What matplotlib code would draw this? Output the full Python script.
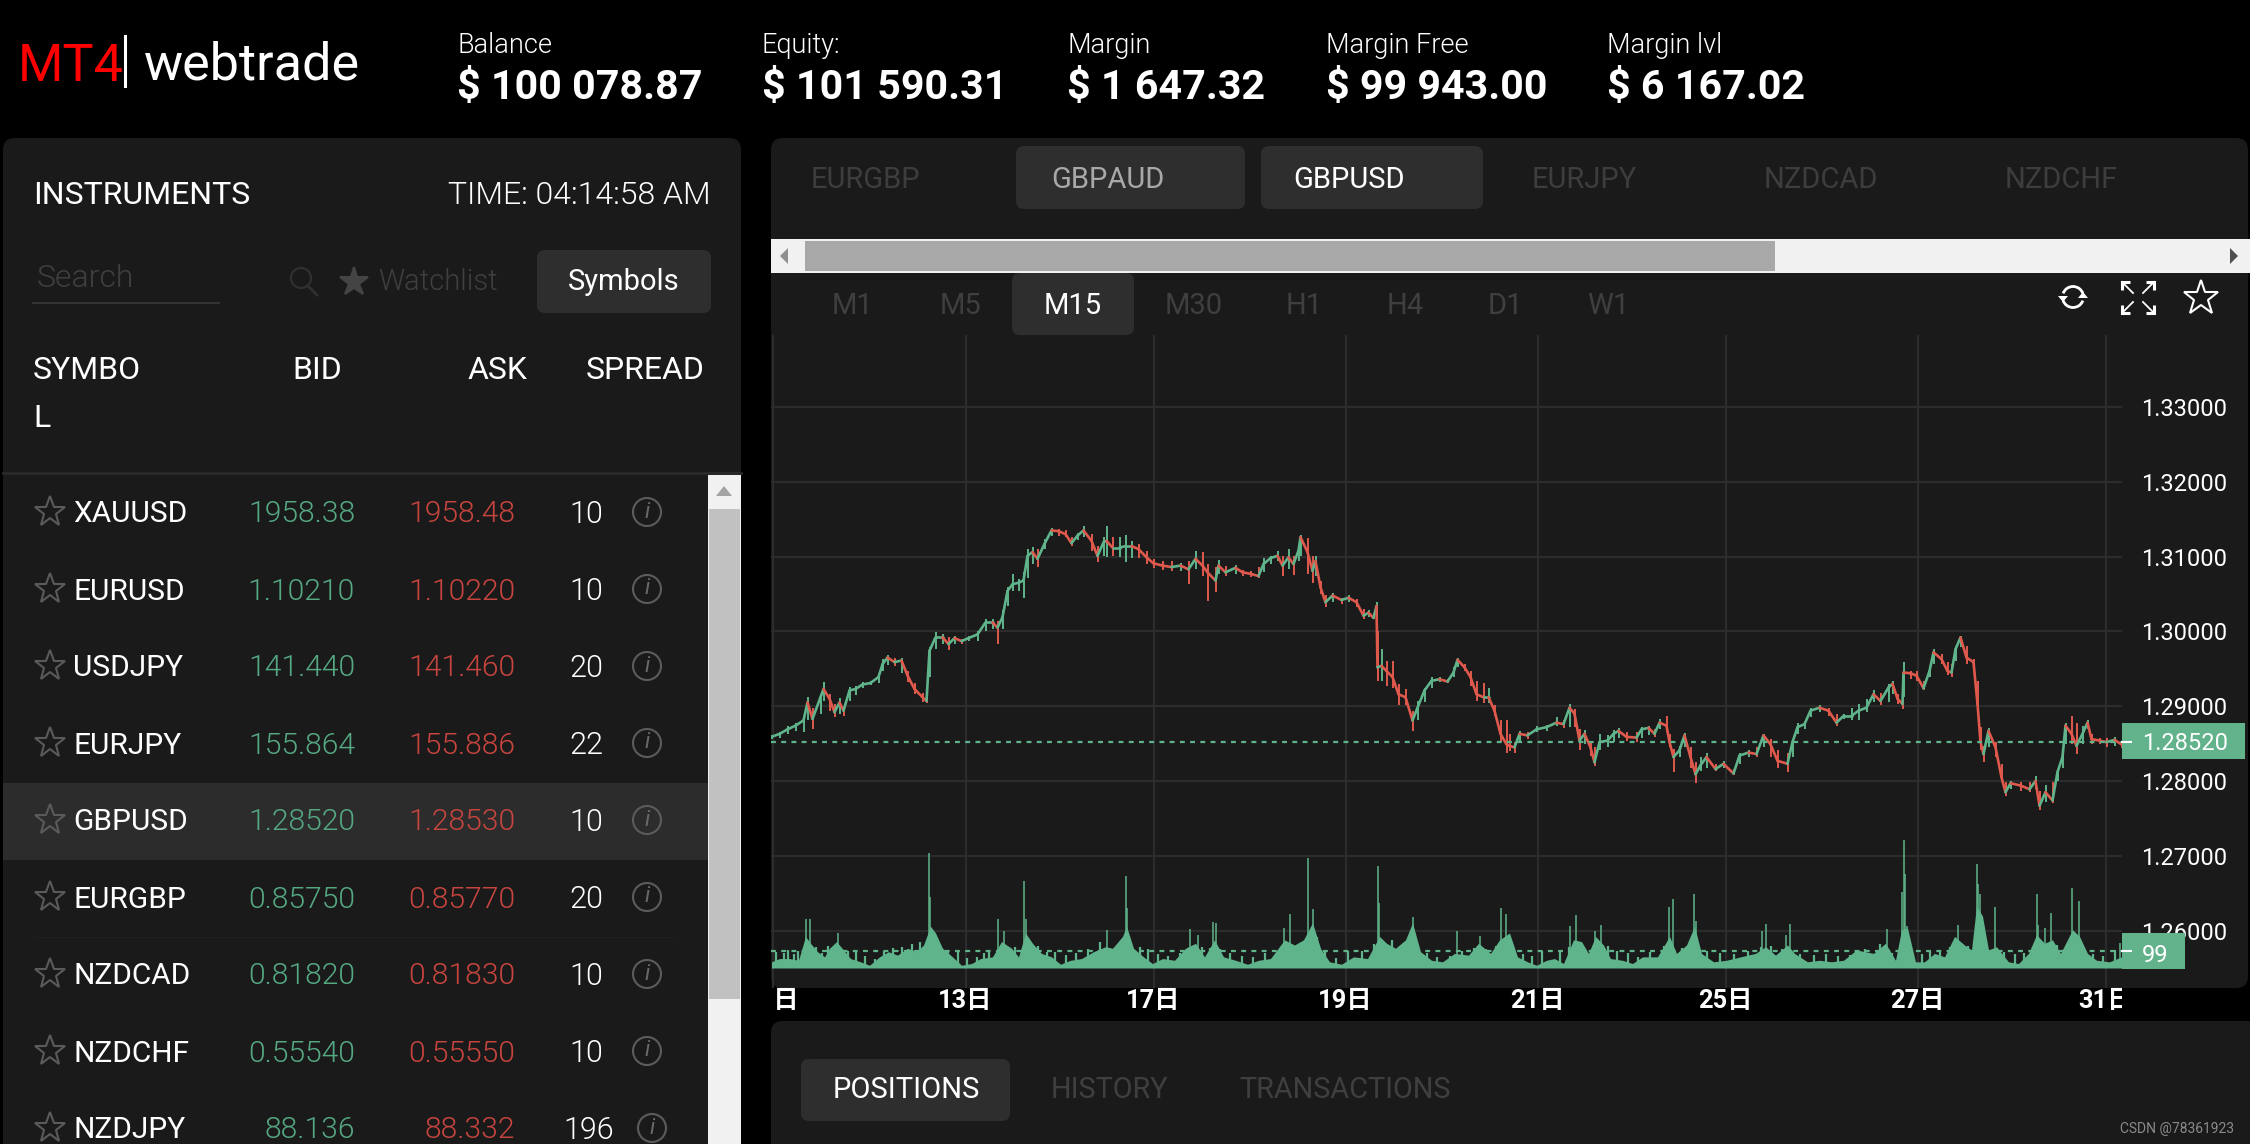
import matplotlib
matplotlib.use("Agg")
import matplotlib.pyplot as plt
from matplotlib.patches import FancyBboxPatch, Rectangle, Circle, Polygon, Arc
from matplotlib.transforms import Bbox

plt.rcParams['font.family'] = ['Roboto', 'Noto Sans CJK SC', 'DejaVu Sans']

# chart data, bar number = 15 min candle position on screen
bars = [0, 8, 16, 24, 32, 36, 41, 49, 52, 58, 63, 68, 72, 78, 84, 91, 99, 107, 111, 116, 123, 130, 136, 143, 151, 155,
        158, 164, 171, 177, 183, 190, 197, 206, 214, 221, 226, 231, 236, 241, 247, 252, 256, 261, 266, 273, 280, 287,
        294, 300, 306, 312, 320, 326, 332, 335, 341, 348, 354, 360, 367, 375, 382, 391, 400, 409, 417, 424, 431, 436,
        444, 447, 454, 464, 471, 479, 487, 492, 499, 506, 511, 517, 522, 527, 529, 536, 541, 544, 549, 554, 561, 570,
        577, 585, 592, 597, 602, 605, 606, 610, 615, 621, 627, 634, 641, 646, 653, 660, 668, 676, 682, 686, 693, 699,
        705, 712, 717, 723, 729, 735,
        738, 743, 748, 756, 765, 775, 785, 792, 798, 803, 808, 813, 819, 823, 828, 836, 842, 847, 855, 865, 870, 877,
        883, 888, 895, 898, 902, 908, 913, 919, 924, 929, 935, 944, 952, 962, 968, 977, 985, 992, 999, 1006, 1016, 1021,
        1026, 1033, 1039, 1048, 1057, 1065, 1072, 1080, 1087, 1095, 1102, 1109, 1117, 1121, 1126, 1131, 1132, 1139,
        1145, 1152, 1158, 1162, 1170, 1176, 1180, 1184, 1189, 1195, 1202, 1206, 1209, 1212, 1217, 1224, 1230, 1234,
        1239, 1249, 1258, 1264, 1268, 1274, 1281, 1286, 1291, 1294, 1300, 1305, 1311, 1316, 1320, 1328, 1335, 1343, 1350]
closes = [12859, 12863, 12869, 12874, 12881, 12905, 12883, 12912, 12923, 12910, 12892, 12905, 12894, 12921, 12923, 12929,
          12931, 12939, 12956, 12965, 12959, 12961, 12941, 12923, 12912, 12907, 12974, 12992, 12992, 12983, 12991, 12987,
          12991, 12996, 13012, 13012, 13005, 13019, 13054, 13063, 13065, 13068, 13101, 13106, 13097, 13117, 13135, 13134,
          13130, 13118, 13128, 13135, 13121, 13101, 13119, 13121, 13112, 13112, 13114, 13114, 13110, 13099, 13091, 13088,
          13086, 13088, 13083, 13097, 13088, 13079, 13068, 13088, 13079, 13085, 13079, 13077, 13074, 13090, 13098, 13101,
          13088, 13099, 13090, 13108, 13126, 13106, 13081, 13094, 13059, 13039, 13048, 13042, 13045, 13039, 13021, 13025,
          13018, 13034, 12952, 12954, 12947, 12939, 12916, 12912, 12881, 12898, 12921, 12934, 12936, 12933, 12945, 12962,
          12952, 12939, 12916, 12912, 12912, 12894, 12863, 12849,
          12847, 12845, 12863, 12861, 12869, 12872, 12878, 12876, 12898, 12890, 12854, 12863, 12845, 12825, 12852, 12854,
          12863, 12867, 12859, 12858, 12869, 12871, 12863, 12878, 12874, 12852, 12832, 12841, 12861, 12832, 12809, 12821,
          12832, 12816, 12823, 12810, 12834, 12838, 12836, 12861, 12849, 12827, 12823, 12852, 12872, 12876, 12894, 12898,
          12894, 12878, 12887, 12887, 12894, 12898, 12916, 12907, 12925, 12930, 12910, 12903, 12945, 12944, 12941, 12924,
          12947, 12972, 12963, 12947, 12945, 12976, 12992, 12965, 12959, 12903, 12852, 12836, 12867, 12845, 12805, 12785,
          12797, 12794, 12789, 12800, 12767, 12785, 12774, 12812, 12832, 12874, 12863, 12847, 12863, 12878, 12856, 12854,
          12852, 12855, 12849]
highs = [12862, 12866, 12873, 12878, 12886, 12912, 12898, 12916, 12933, 12916, 12903, 12911, 12899, 12926, 12927, 12932,
         12934, 12945, 12963, 12968, 12964, 12965, 12947, 12931, 12918, 12916, 12979, 12999, 12997, 12992, 12994, 12990,
         12994, 13000, 13016, 13016, 13014, 13028, 13060, 13077, 13070, 13079, 13110, 13113, 13110, 13123, 13138, 13137,
         13135, 13126, 13132, 13141, 13130, 13114, 13126, 13141, 13126, 13126, 13129, 13121, 13117, 13108, 13097, 13094,
         13094, 13092, 13094, 13107, 13106, 13090, 13086, 13095, 13088, 13089, 13082, 13081, 13086, 13098, 13101, 13107,
         13101, 13110, 13101, 13117, 13129, 13125, 13101, 13101, 13068, 13048, 13052, 13045, 13048, 13043, 13030, 13029,
         13025, 13039, 13001, 12976, 12961, 12961, 12930, 12923, 12894, 12907, 12925, 12939, 12939, 12936, 12952, 12964,
         12957, 12947, 12934, 12931, 12925, 12901, 12881, 12881,
         12863, 12852, 12867, 12865, 12873, 12875, 12885, 12881, 12903, 12896, 12869, 12868, 12854, 12845, 12863, 12862,
         12868, 12871, 12865, 12865, 12872, 12874, 12869, 12883, 12887, 12863, 12843, 12847, 12864, 12845, 12825, 12832,
         12838, 12823, 12827, 12816, 12838, 12841, 12845, 12863, 12856, 12841, 12838, 12856, 12877, 12878, 12898, 12902,
         12898, 12890, 12890, 12898, 12903, 12910, 12922, 12918, 12930, 12934, 12916, 12910, 12959, 12947, 12947, 12934,
         12952, 12976, 12970, 12959, 12956, 12981, 12994, 12981, 12963, 12934, 12872, 12847, 12871, 12852, 12823, 12798,
         12800, 12798, 12798, 12807, 12787, 12794, 12798, 12816, 12841, 12878, 12887, 12878, 12874, 12882, 12863, 12858,
         12858, 12859, 12854]
lows = [12856, 12857, 12863, 12867, 12866, 12881, 12869, 12890, 12907, 12894, 12885, 12890, 12887, 12907, 12915, 12925,
        12929, 12931, 12947, 12955, 12954, 12945, 12932, 12916, 12905, 12904, 12939, 12976, 12983, 12975, 12983, 12983,
        12987, 12987, 13001, 13003, 12983, 13003, 13034, 13054, 13054, 13045, 13072, 13090, 13086, 13110, 13128, 13128,
        13126, 13114, 13122, 13126, 13108, 13093, 13101, 13099, 13101, 13099, 13093, 13098, 13098, 13090, 13085, 13082,
        13081, 13081, 13064, 13083, 13074, 13041, 13053, 13077, 13074, 13077, 13074, 13073, 13071, 13079, 13090, 13094,
        13074, 13083, 13076, 13094, 13101, 13077, 13065, 13074, 13050, 13032, 13039, 13037, 13039, 13032, 13016, 13019,
        13017, 13019, 12934, 12934, 12927, 12925, 12901, 12901, 12867, 12881, 12905, 12925, 12932, 12931, 12939, 12952,
        12947, 12927, 12907, 12904, 12904, 12887, 12852, 12838,
        12840, 12838, 12854, 12856, 12865, 12867, 12873, 12871, 12872, 12872, 12841, 12849, 12834, 12820, 12841, 12845,
        12852, 12858, 12854, 12852, 12858, 12861, 12859, 12869, 12865, 12845, 12812, 12832, 12845, 12818, 12797, 12814,
        12818, 12814, 12818, 12808, 12823, 12832, 12832, 12845, 12832, 12818, 12812, 12832, 12863, 12869, 12885, 12892,
        12887, 12874, 12883, 12881, 12881, 12892, 12905, 12902, 12905, 12916, 12903, 12896, 12912, 12936, 12934, 12922,
        12939, 12956, 12957, 12942, 12939, 12961, 12979, 12956, 12947, 12894, 12841, 12825, 12845, 12832, 12800, 12780,
        12789, 12787, 12785, 12789, 12761, 12772, 12770, 12800, 12818, 12849, 12849, 12836, 12849, 12869, 12849, 12849,
        12845, 12847, 12844]
last_price = 1.28520
last_volume = 99

vol_bars = [0, 8, 18, 27, 34, 39, 46, 53, 58, 65, 72, 79, 89, 98, 108, 117, 126, 136, 145, 152, 159, 164, 171, 181, 190,
            200, 209, 221, 230, 240, 247, 254, 261, 270, 280, 289, 299, 310, 322, 334, 341, 351, 355, 362, 372, 381, 391,
            403, 414, 424, 433, 443, 452, 464, 476, 487, 499, 513, 523, 532, 541, 549, 558, 570, 582, 596, 608, 615, 624,
            634, 641, 649, 660, 671, 683, 697, 707, 719, 728, 738, 746, 756, 765, 775, 783, 792, 802, 810, 817, 824, 832,
            839, 851, 861, 871, 886, 898, 905, 915, 923, 930, 942, 955, 969, 984, 994, 1004, 1016, 1023, 1036, 1048,
            1060, 1072, 1085, 1102, 1114, 1124, 1130, 1136, 1144, 1153, 1163, 1173, 1183, 1193, 1200, 1205, 1211, 1217,
            1225, 1237, 1247, 1257, 1265, 1273, 1281, 1289, 1301, 1308, 1316, 1325, 1338, 1350]
vol_base = [36, 55, 55, 45, 184, 144, 95, 65, 115, 154, 105, 55, 36, 16, 65, 95, 75, 115, 95, 134, 243, 204, 115, 65, 16,
            26, 55, 65, 154, 115, 65, 204, 144, 85, 65, 22, 45, 55, 95, 124, 115, 184, 243, 115, 65, 26, 55,
            45, 115, 144, 65, 164, 65, 45, 22, 45, 55, 164, 134, 164, 263, 115, 36, 22, 65, 55, 184, 144, 115,
            164, 263, 95, 45, 36, 85, 75, 144, 85, 164, 204, 65, 36, 16, 45, 55, 26, 164, 154, 85, 184, 134,
            55, 45, 26, 65, 65, 184, 85, 134, 243, 85, 36, 45, 65, 85, 124, 75, 134, 85, 36, 45,
            36, 45, 105, 85, 144, 45, 223, 233, 36, 36, 85, 65, 184, 134, 105, 362, 302, 105,
            124, 36, 26, 85, 194, 144, 164, 85, 223, 184, 85, 45, 36, 65]
spike_bars = [34, 38, 66, 157, 158, 226, 232, 252, 254, 335, 354, 355, 418, 426, 441, 444, 512, 518, 536, 541, 606, 607,
              641, 685, 708, 729, 734, 798, 804, 823, 829, 897, 901, 922, 924, 990, 994, 1014, 1018, 1115, 1130, 1132,
              1133, 1135, 1186, 1205, 1206, 1208, 1223, 1265, 1266, 1273, 1279, 1300, 1307, 1348]
spike_vols = [287, 283, 204, 668, 411, 283, 213, 508, 283, 223, 535, 352, 227, 194, 269, 263, 233, 312, 638, 346, 595, 381,
              298, 213, 184, 352, 312, 247, 306, 217, 249, 358, 401, 431, 273, 217, 259, 194, 259, 229, 445, 743,
              549, 243, 251, 603, 490, 431, 358, 431, 253, 233, 322, 466, 389, 144]
# the short ticks that roughen the top of the volume area, estimated
tick_bars = [4, 12, 16, 22, 26, 31, 44, 50, 56, 70,
             76, 84, 93, 103, 112, 115, 121, 130, 133, 140,
             148, 168, 176, 186, 195, 205, 212, 217, 236, 243,
             250, 266, 275, 283, 294, 304, 316, 328, 345, 368,
             376, 386, 396, 408, 430, 438, 448, 458, 470, 481,
             493, 505, 528, 545, 553, 564, 576, 590, 602, 620,
             630, 655, 665, 678, 690, 702, 714, 724, 742, 751,
             760, 770, 788, 797, 806, 820, 836, 845, 856, 866,
             878, 892, 910, 919, 935, 948, 962, 976, 989, 999,
             1010, 1028, 1042, 1054, 1066, 1078, 1093, 1108, 1120, 1140,
             1150, 1158, 1168, 1178, 1196, 1215, 1232, 1243, 1252, 1261,
             1285, 1295, 1312, 1321, 1331, 1343]
tick_vols = [95, 90, 105, 80, 100, 88, 120, 85, 130, 110,
             98, 92, 70, 50, 100, 78, 115, 120, 96, 140,
             150, 118, 92, 95, 60, 62, 90, 100, 88, 120,
             105, 130, 95, 92, 75, 85, 110, 150, 120, 125,
             110, 80, 70, 90, 120, 118, 110, 90, 70, 62,
             88, 90, 130, 180, 100, 60, 100, 100, 140, 165,
             120, 90, 62, 72, 100, 118, 110, 130, 100, 80,
             68, 100, 92, 120, 105, 110, 130, 100, 90, 62,
             95, 130, 115, 120, 100, 85, 80, 100, 120, 130,
             110, 80, 75, 80, 70, 75, 110, 140, 90, 70,
             80, 100, 105, 120, 130, 115, 95, 80, 90, 120,
             135, 110, 90, 80, 70, 105]

date_ticks = [1, 194, 382, 574, 766, 954, 1146, 1334]
date_labels = ['11日', '13日', '17日', '19日', '21日', '25日', '27日', '31日']
price_ticks = [1.33, 1.32, 1.31, 1.30, 1.29, 1.28, 1.27, 1.26]

# account strip
acct_names = ['Balance', 'Equity:', 'Margin', 'Margin Free', 'Margin lvl']
acct_values = ['$ 100 078.87', '$ 101 590.31', '$ 1 647.32', '$ 99 943.00', '$ 6 167.02']
acct_x = [457, 762, 1067, 1326, 1607]

# instruments table
symbols = ['XAUUSD', 'EURUSD', 'USDJPY', 'EURJPY', 'GBPUSD', 'EURGBP', 'NZDCAD', 'NZDCHF', 'NZDJPY']
bids = ['1958.38', '1.10210', '141.440', '155.864', '1.28520', '0.85750', '0.81820', '0.55540', '88.136']
asks = ['1958.48', '1.10220', '141.460', '155.886', '1.28530', '0.85770', '0.81830', '0.55550', '88.332']
spreads = ['10', '10', '20', '22', '10', '20', '10', '10', '196']
row_y = [513, 590, 667, 744, 821, 898, 975, 1052, 1129]

tab_names = ['EURGBP', 'GBPAUD', 'GBPUSD', 'EURJPY', 'NZDCAD', 'NZDCHF']
tab_x = [811, 1051, 1293, 1532, 1764, 2005]
tab_col = ['#3d3d3d', '#a8a8a8', '#ffffff', '#3d3d3d', '#3d3d3d', '#3d3d3d']
period_names = ['M1', 'M5', 'M15', 'M30', 'H1', 'H4', 'D1', 'W1']
period_x = [853, 960, 1073, 1194, 1304, 1405, 1505, 1608]

BG = '#000000'
PANEL = '#1a1a1a'
BTN = '#2e2e2e'
DIM = '#3f3f3f'
GRID = '#2c2c2c'
GREEN = '#5fb48b'
RED = '#e0594d'
BID_GREEN = '#55a982'
ASK_RED = '#c8453f'

W, H = 2250, 1144
fig = plt.figure(figsize=(W / 100, H / 100), dpi=100, facecolor=BG)


def px_axes(x0, y0, x1, y1):
    return fig.add_axes([x0 / W, 1 - y1 / H, (x1 - x0) / W, (y1 - y0) / H])


ui = fig.add_axes([0, 0, 1, 1], zorder=0)
ui.set_xlim(0, W)
ui.set_ylim(H, 0)
ui.axis('off')


def box(x0, y0, x1, y1, col, r=8, a=ui, z=1):
    a.add_patch(FancyBboxPatch((x0 + r, y0 + r), x1 - x0 - 2 * r, y1 - y0 - 2 * r,
                               boxstyle='round,pad=%d,rounding_size=%d' % (r, r), fc=col, ec='none', zorder=z))


def txt(x, y, s, size=22, col='white', ha='left', weight=400, a=ui, z=5):
    a.text(x, y - 1.5, s, fontsize=size, color=col, ha=ha, va='center_baseline', fontweight=weight, zorder=z)


def star(x, y, col, ms=23, fill=False, a=ui, mew=1.5):
    a.plot([x], [y], marker='*', ms=ms, mfc=col if fill else 'none', mec=col, mew=mew, ls='none', zorder=6)


# panels
box(3, 138, 741, 1160, PANEL, r=12)
box(771, 138, 2248, 988, PANEL, r=12)
box(771, 1021, 2260, 1160, PANEL, r=12)

# header
txt(18, 63, 'MT4', 37.5, '#ff0000')
ui.plot([125, 125], [36, 86], color='white', lw=2.2, zorder=5)
txt(144, 62, 'webtrade', 37.5, 'white')
for x, n, v in zip(acct_x, acct_names, acct_values):
    txt(x, 44, n, 19.5, 'white', weight=300)
    txt(x, 85.5, v, 29.7, 'white', weight=700)

# instruments header
txt(33, 194, 'INSTRUMENTS', 23, 'white')
txt(711, 194, 'TIME: 04:14:58 AM', 23, 'white', ha='right', weight=300)
txt(37, 277, 'Search', 23, DIM, weight=300)
ui.plot([33, 219], [303, 303], color='#333333', lw=1.5, zorder=3)
ui.add_patch(Circle((301, 278), 10, fc='none', ec='#303030', lw=1.6, zorder=3))
ui.plot([308, 317], [286, 295], color='#303030', lw=2, zorder=3)
star(354, 282, '#444444', ms=21, fill=True)
txt(378, 280, 'Watchlist', 21, DIM, weight=300)
box(537, 250, 711, 313, BTN)
txt(624, 281, 'Symbols', 21, 'white', ha='center')
txt(33, 369, 'SYMBO', 23)
txt(33, 417, 'L', 23)
txt(317, 369, 'BID', 23, ha='center')
txt(497, 369, 'ASK', 23, ha='center')
txt(705, 369, 'SPREAD', 23, ha='right')
ui.plot([3, 741], [473, 473], color='#2a2a2a', lw=2, zorder=3)

# table rows
ui.add_patch(Rectangle((3, 783), 705, 77, fc='#2c2c2c', ec='none', zorder=2))
for i, y in enumerate(row_y):
    wide = symbols[i] == 'NZDJPY'
    star(50, y - 1, '#5a5a5a')
    txt(73, y, symbols[i], 21.5, 'white', weight=400)
    txt(355, y, bids[i], 21.7, BID_GREEN, ha='right', weight=300)
    txt(515, y, asks[i], 21.7, ASK_RED, ha='right', weight=300)
    txt(614 if wide else 603, y, spreads[i], 22, 'white', ha='right', weight=300)
    ix = 652 if wide else 647
    ui.add_patch(Circle((ix, y - 1), 14, fc='none', ec='#5c5c5c', lw=1.5, zorder=5))
    ui.text(ix, y - 1, 'i', fontsize=16, color='#6a6a6a', style='italic', ha='center', va='center', zorder=6)
ui.plot([35, 675], [936.5, 936.5], color='#1f1f1f', lw=1, zorder=2)

# table scrollbar
ui.add_patch(Rectangle((708, 475), 33, 669, fc='#f1f1f1', ec='none', zorder=3))
ui.add_patch(Rectangle((709, 509), 31, 490, fc='#c1c1c1', ec='none', zorder=4))
ui.add_patch(Polygon([[724, 486], [716, 496], [732, 496]], fc='#a3a3a3', ec='none', zorder=4))

# symbol tabs
box(1016, 146, 1245, 209, BTN)
box(1261, 146, 1483, 209, BTN)
for x, n, c in zip(tab_x, tab_names, tab_col):
    txt(x, 178.5, n, 21, c)

# tabs scrollbar
ui.add_patch(Rectangle((771, 239), 1479, 34, fc='#f1f1f1', ec='none', zorder=2))
ui.add_patch(Rectangle((805, 241), 970, 30, fc='#a8a8a8', ec='none', zorder=3))
ui.add_patch(Polygon([[780, 256], [788, 248], [788, 264]], fc='#8f8f8f', ec='none', zorder=3))
ui.add_patch(Polygon([[2238, 256], [2230, 248], [2230, 264]], fc='#505050', ec='none', zorder=3))

# periods
box(1012, 273, 1134, 335, BTN)
for x, n in zip(period_x, period_names):
    txt(x, 304.5, n, 21, 'white' if n == 'M15' else DIM, ha='center')

# chart toolbar icons
ui.add_patch(Arc((2073, 297), 21, 21, theta1=200, theta2=340, ec='white', lw=2, zorder=6))
ui.add_patch(Arc((2073, 297), 21, 21, theta1=20, theta2=160, ec='white', lw=2, zorder=6))
ui.add_patch(Polygon([[2058, 296], [2068, 296], [2063, 302]], fc='white', ec='none', zorder=6))
ui.add_patch(Polygon([[2078, 298], [2088, 298], [2083, 292]], fc='white', ec='none', zorder=6))
for ix, iy, cx, cy in [(1, 1, 2122, 282), (-1, 1, 2154, 282), (1, -1, 2122, 313), (-1, -1, 2154, 313)]:
    ui.plot([cx + ix * 8, cx, cx], [cy, cy, cy + iy * 8], color='white', lw=2.2, zorder=6,
            solid_joinstyle='miter', solid_capstyle='butt')
    ui.plot([cx, cx + ix * 11], [cy, cy + iy * 11], color='white', lw=1.3, zorder=6)
star(2201, 298, 'white', ms=26)

# bottom tabs
box(801, 1059, 1010, 1121, BTN)
txt(906, 1089, 'POSITIONS', 21, 'white', ha='center')
txt(1051, 1089, 'HISTORY', 20.8, DIM)
txt(1239, 1089, 'TRANSACTIONS', 20.8, DIM)
txt(2234, 1129, 'CSDN @78361923', 10, '#8a8a8a', ha='right')

# price chart, 7480 px per 1.0 of price, 1 px per bar
ax = px_axes(771, 335, 2122, 988)
ax.patch.set_alpha(0)
ax.set_zorder(1)
ax.set_xlim(-0.5, 1350.5)
ax.set_ylim(1.28 - 207 / 7480, 1.28 + 446 / 7480)
for s in ax.spines.values():
    s.set_visible(False)
ax.set_yticks(price_ticks, ['%.5f' % p for p in price_ticks])
ax.yaxis.tick_right()
ax.tick_params(axis='y', length=0, pad=14, labelsize=17, labelcolor='white')
ax.set_xticks(date_ticks, date_labels)
ax.tick_params(axis='x', length=0, pad=1, labelsize=18.3, labelcolor='white')
for lab in ax.get_xticklabels():
    lab.set_fontweight('bold')
    lab.set_clip_on(True)
    lab.set_clip_box(Bbox([[771, 0], [2122, H]]))
ax.grid(True, color=GRID, lw=1.6)
ax.set_axisbelow(True)

prev = closes[0] / 10000
for b, c, hi, lo in zip(bars, closes, highs, lows):
    col = GREEN if c / 10000 >= prev else RED
    ax.vlines(b, lo / 10000, hi / 10000, color=col, lw=1.4, zorder=3)
    prev = c / 10000
px, pb = closes[0] / 10000, bars[0]
for b, c in zip(bars, closes):
    p = c / 10000
    ax.plot([pb, b], [px, p], color=GREEN if p >= px else RED, lw=1.9, zorder=3, solid_capstyle='round')
    px, pb = p, b
ax.axhline(last_price, color=GREEN, lw=1.6, ls=(0, (2.2, 2.4)), zorder=4)

# volume pane sits on the same bars, 0.1717 px per lot
vax = px_axes(771, 335, 2122, 968)
vax.patch.set_alpha(0)
vax.set_zorder(2)
vax.set_xlim(-0.5, 1350.5)
vax.set_ylim(0, 633 / 0.1717)
vax.axis('off')
vax.fill_between(vol_bars, vol_base, 0, color=GREEN, lw=0, zorder=2)
vax.vlines(spike_bars, 0, spike_vols, color=GREEN, lw=1.1, zorder=2)
vax.vlines(tick_bars, 0, tick_vols, color=GREEN, lw=1.6, zorder=2)
vax.axhline(last_volume, color=GREEN, lw=1.6, ls=(0, (2.2, 2.4)), zorder=1)

# last value tags on top of the axes
top = fig.add_axes([0, 0, 1, 1], zorder=5)
top.set_xlim(0, W)
top.set_ylim(H, 0)
top.axis('off')
top.patch.set_alpha(0)
top.add_patch(Rectangle((2122, 723), 123, 36, fc='#62b38b', ec='none'))
top.plot([2122, 2131], [741.5, 741.5], color='white', lw=1.5)
txt(2142, 743, '%.5f' % last_price, 17, 'white', a=top)
top.add_patch(Rectangle((2122, 933), 63, 36, fc='#62b38b', ec='none'))
top.plot([2122, 2131], [951, 951], color='white', lw=1.5)
txt(2142, 954, str(last_volume), 17, 'white', a=top)

fig.savefig('out.png', dpi=100, facecolor=BG)
